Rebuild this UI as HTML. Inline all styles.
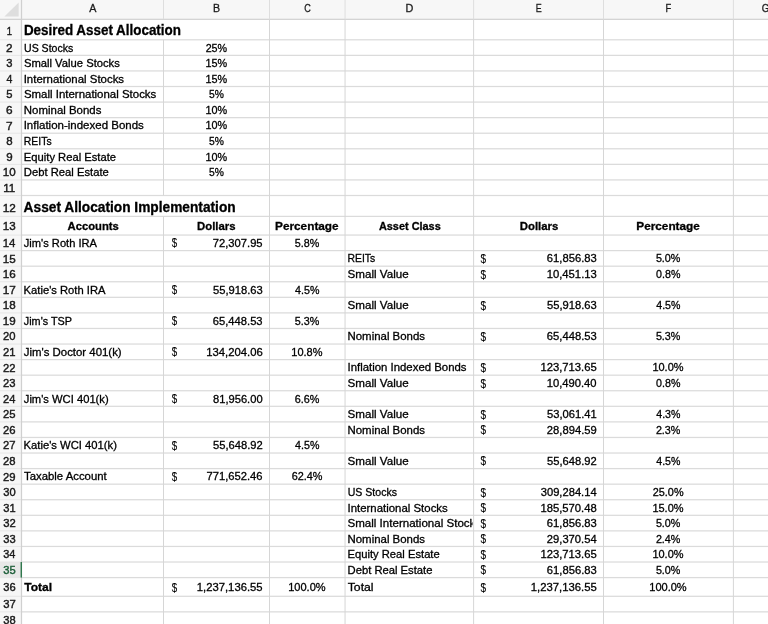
<!DOCTYPE html>
<html lang="en">
<head>
<meta charset="utf-8">
<title>Asset Allocation</title>
<style>
html,body{margin:0;padding:0;background:#fff;}
body{width:768px;height:624px;overflow:hidden;position:relative;font-family:"Liberation Sans",sans-serif;}
svg text{font-family:"Liberation Sans",sans-serif;white-space:pre;}
</style>
</head>
<body>
<svg width="768" height="624" viewBox="0 0 768 624" font-family="Liberation Sans, sans-serif" style="position:absolute;left:0;top:0;will-change:transform">
<defs><clipPath id="clipD"><rect x="345.05" y="0" width="127.45" height="624"/></clipPath></defs>
<rect x="0" y="0" width="768" height="624" fill="#fff"/>
<rect x="0" y="0" width="768" height="19.0" fill="#f7f7f7"/>
<rect x="0" y="0" width="21.5" height="624" fill="#f7f7f7"/>
<rect x="0" y="562.02" width="21.5" height="15.57" fill="#e8e8e8"/>
<rect x="0.00" y="18.73" width="768.00" height="1.15" fill="#cfcfcf"/>
<rect x="0.00" y="39.30" width="21.50" height="1.0" fill="#e6e6e6"/>
<rect x="21.50" y="39.17" width="746.50" height="1.25" fill="#dbdbdb"/>
<rect x="0.00" y="54.87" width="21.50" height="1.0" fill="#e6e6e6"/>
<rect x="21.50" y="54.74" width="746.50" height="1.25" fill="#dbdbdb"/>
<rect x="0.00" y="70.44" width="21.50" height="1.0" fill="#e6e6e6"/>
<rect x="21.50" y="70.31" width="746.50" height="1.25" fill="#dbdbdb"/>
<rect x="0.00" y="86.01" width="21.50" height="1.0" fill="#e6e6e6"/>
<rect x="21.50" y="85.88" width="746.50" height="1.25" fill="#dbdbdb"/>
<rect x="0.00" y="101.58" width="21.50" height="1.0" fill="#e6e6e6"/>
<rect x="21.50" y="101.45" width="746.50" height="1.25" fill="#dbdbdb"/>
<rect x="0.00" y="117.15" width="21.50" height="1.0" fill="#e6e6e6"/>
<rect x="21.50" y="117.02" width="746.50" height="1.25" fill="#dbdbdb"/>
<rect x="0.00" y="132.72" width="21.50" height="1.0" fill="#e6e6e6"/>
<rect x="21.50" y="132.59" width="746.50" height="1.25" fill="#dbdbdb"/>
<rect x="0.00" y="148.29" width="21.50" height="1.0" fill="#e6e6e6"/>
<rect x="21.50" y="148.16" width="746.50" height="1.25" fill="#dbdbdb"/>
<rect x="0.00" y="163.86" width="21.50" height="1.0" fill="#e6e6e6"/>
<rect x="21.50" y="163.73" width="746.50" height="1.25" fill="#dbdbdb"/>
<rect x="0.00" y="179.43" width="21.50" height="1.0" fill="#e6e6e6"/>
<rect x="21.50" y="179.30" width="746.50" height="1.25" fill="#dbdbdb"/>
<rect x="0.00" y="195.00" width="21.50" height="1.0" fill="#e6e6e6"/>
<rect x="21.50" y="194.87" width="746.50" height="1.25" fill="#dbdbdb"/>
<rect x="0.00" y="215.90" width="21.50" height="1.0" fill="#e6e6e6"/>
<rect x="21.50" y="215.77" width="746.50" height="1.25" fill="#dbdbdb"/>
<rect x="0.00" y="234.55" width="21.50" height="1.0" fill="#e6e6e6"/>
<rect x="21.50" y="234.42" width="746.50" height="1.25" fill="#dbdbdb"/>
<rect x="0.00" y="250.12" width="21.50" height="1.0" fill="#e6e6e6"/>
<rect x="21.50" y="249.99" width="746.50" height="1.25" fill="#dbdbdb"/>
<rect x="0.00" y="265.69" width="21.50" height="1.0" fill="#e6e6e6"/>
<rect x="21.50" y="265.56" width="746.50" height="1.25" fill="#dbdbdb"/>
<rect x="0.00" y="281.26" width="21.50" height="1.0" fill="#e6e6e6"/>
<rect x="21.50" y="281.13" width="746.50" height="1.25" fill="#dbdbdb"/>
<rect x="0.00" y="296.83" width="21.50" height="1.0" fill="#e6e6e6"/>
<rect x="21.50" y="296.70" width="746.50" height="1.25" fill="#dbdbdb"/>
<rect x="0.00" y="312.40" width="21.50" height="1.0" fill="#e6e6e6"/>
<rect x="21.50" y="312.27" width="746.50" height="1.25" fill="#dbdbdb"/>
<rect x="0.00" y="327.97" width="21.50" height="1.0" fill="#e6e6e6"/>
<rect x="21.50" y="327.84" width="746.50" height="1.25" fill="#dbdbdb"/>
<rect x="0.00" y="343.54" width="21.50" height="1.0" fill="#e6e6e6"/>
<rect x="21.50" y="343.41" width="746.50" height="1.25" fill="#dbdbdb"/>
<rect x="0.00" y="359.11" width="21.50" height="1.0" fill="#e6e6e6"/>
<rect x="21.50" y="358.98" width="746.50" height="1.25" fill="#dbdbdb"/>
<rect x="0.00" y="374.68" width="21.50" height="1.0" fill="#e6e6e6"/>
<rect x="21.50" y="374.55" width="746.50" height="1.25" fill="#dbdbdb"/>
<rect x="0.00" y="390.25" width="21.50" height="1.0" fill="#e6e6e6"/>
<rect x="21.50" y="390.12" width="746.50" height="1.25" fill="#dbdbdb"/>
<rect x="0.00" y="405.82" width="21.50" height="1.0" fill="#e6e6e6"/>
<rect x="21.50" y="405.69" width="746.50" height="1.25" fill="#dbdbdb"/>
<rect x="0.00" y="421.39" width="21.50" height="1.0" fill="#e6e6e6"/>
<rect x="21.50" y="421.26" width="746.50" height="1.25" fill="#dbdbdb"/>
<rect x="0.00" y="436.96" width="21.50" height="1.0" fill="#e6e6e6"/>
<rect x="21.50" y="436.83" width="746.50" height="1.25" fill="#dbdbdb"/>
<rect x="0.00" y="452.53" width="21.50" height="1.0" fill="#e6e6e6"/>
<rect x="21.50" y="452.40" width="746.50" height="1.25" fill="#dbdbdb"/>
<rect x="0.00" y="468.10" width="21.50" height="1.0" fill="#e6e6e6"/>
<rect x="21.50" y="467.97" width="746.50" height="1.25" fill="#dbdbdb"/>
<rect x="0.00" y="483.67" width="21.50" height="1.0" fill="#e6e6e6"/>
<rect x="21.50" y="483.54" width="746.50" height="1.25" fill="#dbdbdb"/>
<rect x="0.00" y="499.24" width="21.50" height="1.0" fill="#e6e6e6"/>
<rect x="21.50" y="499.11" width="746.50" height="1.25" fill="#dbdbdb"/>
<rect x="0.00" y="514.81" width="21.50" height="1.0" fill="#e6e6e6"/>
<rect x="21.50" y="514.68" width="746.50" height="1.25" fill="#dbdbdb"/>
<rect x="0.00" y="530.38" width="21.50" height="1.0" fill="#e6e6e6"/>
<rect x="21.50" y="530.25" width="746.50" height="1.25" fill="#dbdbdb"/>
<rect x="0.00" y="545.95" width="21.50" height="1.0" fill="#e6e6e6"/>
<rect x="21.50" y="545.82" width="746.50" height="1.25" fill="#dbdbdb"/>
<rect x="0.00" y="561.52" width="21.50" height="1.0" fill="#e6e6e6"/>
<rect x="21.50" y="561.39" width="746.50" height="1.25" fill="#dbdbdb"/>
<rect x="0.00" y="577.09" width="21.50" height="1.0" fill="#e6e6e6"/>
<rect x="21.50" y="576.97" width="746.50" height="1.25" fill="#dbdbdb"/>
<rect x="0.00" y="595.79" width="21.50" height="1.0" fill="#e6e6e6"/>
<rect x="21.50" y="595.67" width="746.50" height="1.25" fill="#dbdbdb"/>
<rect x="0.00" y="611.36" width="21.50" height="1.0" fill="#e6e6e6"/>
<rect x="21.50" y="611.24" width="746.50" height="1.25" fill="#dbdbdb"/>
<rect x="163.00" y="0.00" width="1.0" height="19.00" fill="#dedede"/>
<rect x="163.00" y="39.80" width="1.0" height="155.70" fill="#d6d6d6"/>
<rect x="163.00" y="216.40" width="1.0" height="407.60" fill="#d6d6d6"/>
<rect x="269.00" y="0.00" width="1.0" height="19.00" fill="#dedede"/>
<rect x="269.00" y="19.00" width="1.0" height="605.00" fill="#d6d6d6"/>
<rect x="344.55" y="0.00" width="1.0" height="19.00" fill="#dedede"/>
<rect x="344.55" y="19.00" width="1.0" height="605.00" fill="#d6d6d6"/>
<rect x="473.10" y="0.00" width="1.0" height="19.00" fill="#dedede"/>
<rect x="473.10" y="19.00" width="1.0" height="605.00" fill="#d6d6d6"/>
<rect x="603.00" y="0.00" width="1.0" height="19.00" fill="#dedede"/>
<rect x="603.00" y="19.00" width="1.0" height="605.00" fill="#d6d6d6"/>
<rect x="732.90" y="0.00" width="1.0" height="19.00" fill="#dedede"/>
<rect x="732.90" y="19.00" width="1.0" height="605.00" fill="#d6d6d6"/>
<rect x="20.90" y="0.00" width="1.2" height="624.00" fill="#d0d0d0"/>
<polygon points="4.4,16.5 18.7,16.5 18.7,2.4" fill="#dedede"/>
<rect x="20.60" y="562.02" width="1.3" height="15.57" fill="#1e6e3f"/>
<text x="23.88" y="34.80" font-size="13.9" fill="#000" stroke="#000" stroke-width="0.3" font-weight="bold" textLength="157.06" lengthAdjust="spacingAndGlyphs">Desired Asset Allocation</text>
<text x="23.62" y="211.50" font-size="13.9" fill="#000" stroke="#000" stroke-width="0.3" font-weight="bold" textLength="212.06" lengthAdjust="spacingAndGlyphs">Asset Allocation Implementation</text>
<text x="24.03" y="51.62" font-size="11.3" fill="#000" stroke="#000" stroke-width="0.3" textLength="49.29" lengthAdjust="spacingAndGlyphs">US Stocks</text>
<text x="205.63" y="51.62" font-size="11.3" fill="#000" stroke="#000" stroke-width="0.3" textLength="21.50" lengthAdjust="spacingAndGlyphs">25%</text>
<text x="23.91" y="67.19" font-size="11.3" fill="#000" stroke="#000" stroke-width="0.3" textLength="95.95" lengthAdjust="spacingAndGlyphs">Small Value Stocks</text>
<text x="205.46" y="67.19" font-size="11.3" fill="#000" stroke="#000" stroke-width="0.3" textLength="21.67" lengthAdjust="spacingAndGlyphs">15%</text>
<text x="23.68" y="82.76" font-size="11.3" fill="#000" stroke="#000" stroke-width="0.3" textLength="100.41" lengthAdjust="spacingAndGlyphs">International Stocks</text>
<text x="205.46" y="82.76" font-size="11.3" fill="#000" stroke="#000" stroke-width="0.3" textLength="21.67" lengthAdjust="spacingAndGlyphs">15%</text>
<text x="23.91" y="98.33" font-size="11.3" fill="#000" stroke="#000" stroke-width="0.3" textLength="132.42" lengthAdjust="spacingAndGlyphs">Small International Stocks</text>
<text x="208.96" y="98.33" font-size="11.3" fill="#000" stroke="#000" stroke-width="0.3" textLength="14.84" lengthAdjust="spacingAndGlyphs">5%</text>
<text x="23.86" y="113.90" font-size="11.3" fill="#000" stroke="#000" stroke-width="0.3" textLength="77.50" lengthAdjust="spacingAndGlyphs">Nominal Bonds</text>
<text x="205.46" y="113.90" font-size="11.3" fill="#000" stroke="#000" stroke-width="0.3" textLength="21.67" lengthAdjust="spacingAndGlyphs">10%</text>
<text x="23.68" y="129.47" font-size="11.3" fill="#000" stroke="#000" stroke-width="0.3" textLength="120.17" lengthAdjust="spacingAndGlyphs">Inflation-indexed Bonds</text>
<text x="205.46" y="129.47" font-size="11.3" fill="#000" stroke="#000" stroke-width="0.3" textLength="21.67" lengthAdjust="spacingAndGlyphs">10%</text>
<text x="23.86" y="145.04" font-size="11.3" fill="#000" stroke="#000" stroke-width="0.3" textLength="27.73" lengthAdjust="spacingAndGlyphs">REITs</text>
<text x="208.96" y="145.04" font-size="11.3" fill="#000" stroke="#000" stroke-width="0.3" textLength="14.84" lengthAdjust="spacingAndGlyphs">5%</text>
<text x="23.86" y="160.61" font-size="11.3" fill="#000" stroke="#000" stroke-width="0.3" textLength="92.20" lengthAdjust="spacingAndGlyphs">Equity Real Estate</text>
<text x="205.46" y="160.61" font-size="11.3" fill="#000" stroke="#000" stroke-width="0.3" textLength="21.67" lengthAdjust="spacingAndGlyphs">10%</text>
<text x="23.86" y="176.18" font-size="11.3" fill="#000" stroke="#000" stroke-width="0.3" textLength="84.97" lengthAdjust="spacingAndGlyphs">Debt Real Estate</text>
<text x="208.96" y="176.18" font-size="11.3" fill="#000" stroke="#000" stroke-width="0.3" textLength="14.84" lengthAdjust="spacingAndGlyphs">5%</text>
<text x="67.59" y="230.05" font-size="11.6" fill="#000" stroke="#000" stroke-width="0.3" font-weight="bold" textLength="51.18" lengthAdjust="spacingAndGlyphs">Accounts</text>
<text x="197.06" y="230.05" font-size="11.6" fill="#000" stroke="#000" stroke-width="0.3" font-weight="bold" textLength="38.47" lengthAdjust="spacingAndGlyphs">Dollars</text>
<text x="275.07" y="230.05" font-size="11.6" fill="#000" stroke="#000" stroke-width="0.3" font-weight="bold" textLength="63.56" lengthAdjust="spacingAndGlyphs">Percentage</text>
<text x="378.88" y="230.05" font-size="11.6" fill="#000" stroke="#000" stroke-width="0.3" font-weight="bold" textLength="61.89" lengthAdjust="spacingAndGlyphs">Asset Class</text>
<text x="519.83" y="230.05" font-size="11.6" fill="#000" stroke="#000" stroke-width="0.3" font-weight="bold" textLength="38.47" lengthAdjust="spacingAndGlyphs">Dollars</text>
<text x="636.28" y="230.05" font-size="11.6" fill="#000" stroke="#000" stroke-width="0.3" font-weight="bold" textLength="63.56" lengthAdjust="spacingAndGlyphs">Percentage</text>
<text x="23.79" y="246.87" font-size="11.3" fill="#000" stroke="#000" stroke-width="0.3" textLength="73.25" lengthAdjust="spacingAndGlyphs">Jim's Roth IRA</text>
<text x="171.79" y="247.42" font-size="12.4" fill="#000" stroke="#000" stroke-width="0.12" textLength="5.42" lengthAdjust="spacingAndGlyphs">$</text>
<text x="212.84" y="246.87" font-size="11.3" fill="#000" stroke="#000" stroke-width="0.3" textLength="49.75" lengthAdjust="spacingAndGlyphs">72,307.95</text>
<text x="294.87" y="246.87" font-size="11.3" fill="#000" stroke="#000" stroke-width="0.3" textLength="24.49" lengthAdjust="spacingAndGlyphs">5.8%</text>
<text x="23.59" y="293.58" font-size="11.3" fill="#000" stroke="#000" stroke-width="0.3" textLength="81.91" lengthAdjust="spacingAndGlyphs">Katie's Roth IRA</text>
<text x="171.79" y="294.13" font-size="12.4" fill="#000" stroke="#000" stroke-width="0.12" textLength="5.42" lengthAdjust="spacingAndGlyphs">$</text>
<text x="213.02" y="293.58" font-size="11.3" fill="#000" stroke="#000" stroke-width="0.3" textLength="49.75" lengthAdjust="spacingAndGlyphs">55,918.63</text>
<text x="295.05" y="293.58" font-size="11.3" fill="#000" stroke="#000" stroke-width="0.3" textLength="24.32" lengthAdjust="spacingAndGlyphs">4.5%</text>
<text x="23.79" y="324.72" font-size="11.3" fill="#000" stroke="#000" stroke-width="0.3" textLength="48.21" lengthAdjust="spacingAndGlyphs">Jim's TSP</text>
<text x="171.79" y="325.27" font-size="12.4" fill="#000" stroke="#000" stroke-width="0.12" textLength="5.42" lengthAdjust="spacingAndGlyphs">$</text>
<text x="212.84" y="324.72" font-size="11.3" fill="#000" stroke="#000" stroke-width="0.3" textLength="49.75" lengthAdjust="spacingAndGlyphs">65,448.53</text>
<text x="294.87" y="324.72" font-size="11.3" fill="#000" stroke="#000" stroke-width="0.3" textLength="24.49" lengthAdjust="spacingAndGlyphs">5.3%</text>
<text x="23.79" y="355.86" font-size="11.3" fill="#000" stroke="#000" stroke-width="0.3" textLength="97.89" lengthAdjust="spacingAndGlyphs">Jim's Doctor 401(k)</text>
<text x="171.79" y="356.41" font-size="12.4" fill="#000" stroke="#000" stroke-width="0.12" textLength="5.42" lengthAdjust="spacingAndGlyphs">$</text>
<text x="206.19" y="355.86" font-size="11.3" fill="#000" stroke="#000" stroke-width="0.3" textLength="56.58" lengthAdjust="spacingAndGlyphs">134,204.06</text>
<text x="291.37" y="355.86" font-size="11.3" fill="#000" stroke="#000" stroke-width="0.3" textLength="31.15" lengthAdjust="spacingAndGlyphs">10.8%</text>
<text x="23.79" y="402.57" font-size="11.3" fill="#000" stroke="#000" stroke-width="0.3" textLength="84.91" lengthAdjust="spacingAndGlyphs">Jim's WCI 401(k)</text>
<text x="171.79" y="403.12" font-size="12.4" fill="#000" stroke="#000" stroke-width="0.12" textLength="5.42" lengthAdjust="spacingAndGlyphs">$</text>
<text x="213.02" y="402.57" font-size="11.3" fill="#000" stroke="#000" stroke-width="0.3" textLength="49.57" lengthAdjust="spacingAndGlyphs">81,956.00</text>
<text x="294.70" y="402.57" font-size="11.3" fill="#000" stroke="#000" stroke-width="0.3" textLength="24.67" lengthAdjust="spacingAndGlyphs">6.6%</text>
<text x="23.59" y="449.28" font-size="11.3" fill="#000" stroke="#000" stroke-width="0.3" textLength="93.41" lengthAdjust="spacingAndGlyphs">Katie's WCI 401(k)</text>
<text x="171.79" y="449.83" font-size="12.4" fill="#000" stroke="#000" stroke-width="0.12" textLength="5.42" lengthAdjust="spacingAndGlyphs">$</text>
<text x="213.02" y="449.28" font-size="11.3" fill="#000" stroke="#000" stroke-width="0.3" textLength="49.75" lengthAdjust="spacingAndGlyphs">55,648.92</text>
<text x="295.05" y="449.28" font-size="11.3" fill="#000" stroke="#000" stroke-width="0.3" textLength="24.32" lengthAdjust="spacingAndGlyphs">4.5%</text>
<text x="24.09" y="480.42" font-size="11.3" fill="#000" stroke="#000" stroke-width="0.3" textLength="82.63" lengthAdjust="spacingAndGlyphs">Taxable Account</text>
<text x="171.79" y="480.97" font-size="12.4" fill="#000" stroke="#000" stroke-width="0.12" textLength="5.42" lengthAdjust="spacingAndGlyphs">$</text>
<text x="206.54" y="480.42" font-size="11.3" fill="#000" stroke="#000" stroke-width="0.3" textLength="56.05" lengthAdjust="spacingAndGlyphs">771,652.46</text>
<text x="291.72" y="480.42" font-size="11.3" fill="#000" stroke="#000" stroke-width="0.3" textLength="30.80" lengthAdjust="spacingAndGlyphs">62.4%</text>
<text x="24.26" y="591.19" font-size="11.6" fill="#000" stroke="#000" stroke-width="0.3" font-weight="bold" textLength="27.88" lengthAdjust="spacingAndGlyphs">Total</text>
<text x="171.79" y="591.74" font-size="12.4" fill="#000" stroke="#000" stroke-width="0.12" textLength="5.42" lengthAdjust="spacingAndGlyphs">$</text>
<text x="196.80" y="591.19" font-size="11.3" fill="#000" stroke="#000" stroke-width="0.3" textLength="65.79" lengthAdjust="spacingAndGlyphs">1,237,136.55</text>
<text x="288.21" y="591.19" font-size="11.3" fill="#000" stroke="#000" stroke-width="0.3" textLength="37.46" lengthAdjust="spacingAndGlyphs">100.0%</text>
<text x="347.52" y="262.44" font-size="11.3" fill="#000" stroke="#000" stroke-width="0.3" textLength="27.73" lengthAdjust="spacingAndGlyphs">REITs</text>
<text x="480.56" y="262.99" font-size="12.4" fill="#000" stroke="#000" stroke-width="0.12" textLength="5.59" lengthAdjust="spacingAndGlyphs">$</text>
<text x="546.87" y="262.44" font-size="11.3" fill="#000" stroke="#000" stroke-width="0.3" textLength="49.92" lengthAdjust="spacingAndGlyphs">61,856.83</text>
<text x="655.90" y="262.44" font-size="11.3" fill="#000" stroke="#000" stroke-width="0.3" textLength="24.49" lengthAdjust="spacingAndGlyphs">5.0%</text>
<text x="347.57" y="278.01" font-size="11.3" fill="#000" stroke="#000" stroke-width="0.3" textLength="61.12" lengthAdjust="spacingAndGlyphs">Small Value</text>
<text x="480.56" y="278.56" font-size="12.4" fill="#000" stroke="#000" stroke-width="0.12" textLength="5.59" lengthAdjust="spacingAndGlyphs">$</text>
<text x="546.70" y="278.01" font-size="11.3" fill="#000" stroke="#000" stroke-width="0.3" textLength="50.10" lengthAdjust="spacingAndGlyphs">10,451.13</text>
<text x="656.08" y="278.01" font-size="11.3" fill="#000" stroke="#000" stroke-width="0.3" textLength="24.32" lengthAdjust="spacingAndGlyphs">0.8%</text>
<text x="347.57" y="309.15" font-size="11.3" fill="#000" stroke="#000" stroke-width="0.3" textLength="61.12" lengthAdjust="spacingAndGlyphs">Small Value</text>
<text x="480.56" y="309.70" font-size="12.4" fill="#000" stroke="#000" stroke-width="0.12" textLength="5.59" lengthAdjust="spacingAndGlyphs">$</text>
<text x="547.05" y="309.15" font-size="11.3" fill="#000" stroke="#000" stroke-width="0.3" textLength="49.75" lengthAdjust="spacingAndGlyphs">55,918.63</text>
<text x="656.25" y="309.15" font-size="11.3" fill="#000" stroke="#000" stroke-width="0.3" textLength="24.14" lengthAdjust="spacingAndGlyphs">4.5%</text>
<text x="347.52" y="340.29" font-size="11.3" fill="#000" stroke="#000" stroke-width="0.3" textLength="77.50" lengthAdjust="spacingAndGlyphs">Nominal Bonds</text>
<text x="480.56" y="340.84" font-size="12.4" fill="#000" stroke="#000" stroke-width="0.12" textLength="5.59" lengthAdjust="spacingAndGlyphs">$</text>
<text x="546.87" y="340.29" font-size="11.3" fill="#000" stroke="#000" stroke-width="0.3" textLength="49.92" lengthAdjust="spacingAndGlyphs">65,448.53</text>
<text x="655.90" y="340.29" font-size="11.3" fill="#000" stroke="#000" stroke-width="0.3" textLength="24.49" lengthAdjust="spacingAndGlyphs">5.3%</text>
<text x="347.52" y="371.43" font-size="11.3" fill="#000" stroke="#000" stroke-width="0.3" textLength="118.97" lengthAdjust="spacingAndGlyphs">Inflation Indexed Bonds</text>
<text x="480.56" y="371.98" font-size="12.4" fill="#000" stroke="#000" stroke-width="0.12" textLength="5.59" lengthAdjust="spacingAndGlyphs">$</text>
<text x="540.39" y="371.43" font-size="11.3" fill="#000" stroke="#000" stroke-width="0.3" textLength="56.40" lengthAdjust="spacingAndGlyphs">123,713.65</text>
<text x="652.40" y="371.43" font-size="11.3" fill="#000" stroke="#000" stroke-width="0.3" textLength="31.15" lengthAdjust="spacingAndGlyphs">10.0%</text>
<text x="347.57" y="387.00" font-size="11.3" fill="#000" stroke="#000" stroke-width="0.3" textLength="61.12" lengthAdjust="spacingAndGlyphs">Small Value</text>
<text x="480.56" y="387.55" font-size="12.4" fill="#000" stroke="#000" stroke-width="0.12" textLength="5.59" lengthAdjust="spacingAndGlyphs">$</text>
<text x="546.70" y="387.00" font-size="11.3" fill="#000" stroke="#000" stroke-width="0.3" textLength="49.92" lengthAdjust="spacingAndGlyphs">10,490.40</text>
<text x="656.08" y="387.00" font-size="11.3" fill="#000" stroke="#000" stroke-width="0.3" textLength="24.32" lengthAdjust="spacingAndGlyphs">0.8%</text>
<text x="347.57" y="418.14" font-size="11.3" fill="#000" stroke="#000" stroke-width="0.3" textLength="61.12" lengthAdjust="spacingAndGlyphs">Small Value</text>
<text x="480.56" y="418.69" font-size="12.4" fill="#000" stroke="#000" stroke-width="0.12" textLength="5.59" lengthAdjust="spacingAndGlyphs">$</text>
<text x="547.05" y="418.14" font-size="11.3" fill="#000" stroke="#000" stroke-width="0.3" textLength="49.75" lengthAdjust="spacingAndGlyphs">53,061.41</text>
<text x="656.25" y="418.14" font-size="11.3" fill="#000" stroke="#000" stroke-width="0.3" textLength="24.14" lengthAdjust="spacingAndGlyphs">4.3%</text>
<text x="347.52" y="433.71" font-size="11.3" fill="#000" stroke="#000" stroke-width="0.3" textLength="77.50" lengthAdjust="spacingAndGlyphs">Nominal Bonds</text>
<text x="480.56" y="434.26" font-size="12.4" fill="#000" stroke="#000" stroke-width="0.12" textLength="5.59" lengthAdjust="spacingAndGlyphs">$</text>
<text x="546.87" y="433.71" font-size="11.3" fill="#000" stroke="#000" stroke-width="0.3" textLength="49.92" lengthAdjust="spacingAndGlyphs">28,894.59</text>
<text x="655.90" y="433.71" font-size="11.3" fill="#000" stroke="#000" stroke-width="0.3" textLength="24.49" lengthAdjust="spacingAndGlyphs">2.3%</text>
<text x="347.57" y="464.85" font-size="11.3" fill="#000" stroke="#000" stroke-width="0.3" textLength="61.12" lengthAdjust="spacingAndGlyphs">Small Value</text>
<text x="480.56" y="465.40" font-size="12.4" fill="#000" stroke="#000" stroke-width="0.12" textLength="5.59" lengthAdjust="spacingAndGlyphs">$</text>
<text x="547.05" y="464.85" font-size="11.3" fill="#000" stroke="#000" stroke-width="0.3" textLength="49.75" lengthAdjust="spacingAndGlyphs">55,648.92</text>
<text x="656.25" y="464.85" font-size="11.3" fill="#000" stroke="#000" stroke-width="0.3" textLength="24.14" lengthAdjust="spacingAndGlyphs">4.5%</text>
<text x="347.69" y="495.99" font-size="11.3" fill="#000" stroke="#000" stroke-width="0.3" textLength="49.29" lengthAdjust="spacingAndGlyphs">US Stocks</text>
<text x="480.56" y="496.54" font-size="12.4" fill="#000" stroke="#000" stroke-width="0.12" textLength="5.59" lengthAdjust="spacingAndGlyphs">$</text>
<text x="540.74" y="495.99" font-size="11.3" fill="#000" stroke="#000" stroke-width="0.3" textLength="55.88" lengthAdjust="spacingAndGlyphs">309,284.14</text>
<text x="652.75" y="495.99" font-size="11.3" fill="#000" stroke="#000" stroke-width="0.3" textLength="30.80" lengthAdjust="spacingAndGlyphs">25.0%</text>
<text x="347.52" y="511.56" font-size="11.3" fill="#000" stroke="#000" stroke-width="0.3" textLength="100.23" lengthAdjust="spacingAndGlyphs">International Stocks</text>
<text x="480.56" y="512.11" font-size="12.4" fill="#000" stroke="#000" stroke-width="0.12" textLength="5.59" lengthAdjust="spacingAndGlyphs">$</text>
<text x="540.39" y="511.56" font-size="11.3" fill="#000" stroke="#000" stroke-width="0.3" textLength="56.40" lengthAdjust="spacingAndGlyphs">185,570.48</text>
<text x="652.40" y="511.56" font-size="11.3" fill="#000" stroke="#000" stroke-width="0.3" textLength="31.15" lengthAdjust="spacingAndGlyphs">15.0%</text>
<text x="347.50" y="527.13" font-size="11.3" fill="#000" stroke="#000" stroke-width="0.3" textLength="127.90" lengthAdjust="spacingAndGlyphs" clip-path="url(#clipD)">Small International Stock</text>
<text x="480.56" y="527.68" font-size="12.4" fill="#000" stroke="#000" stroke-width="0.12" textLength="5.59" lengthAdjust="spacingAndGlyphs">$</text>
<text x="546.87" y="527.13" font-size="11.3" fill="#000" stroke="#000" stroke-width="0.3" textLength="49.92" lengthAdjust="spacingAndGlyphs">61,856.83</text>
<text x="655.90" y="527.13" font-size="11.3" fill="#000" stroke="#000" stroke-width="0.3" textLength="24.49" lengthAdjust="spacingAndGlyphs">5.0%</text>
<text x="347.52" y="542.70" font-size="11.3" fill="#000" stroke="#000" stroke-width="0.3" textLength="77.50" lengthAdjust="spacingAndGlyphs">Nominal Bonds</text>
<text x="480.56" y="543.25" font-size="12.4" fill="#000" stroke="#000" stroke-width="0.12" textLength="5.59" lengthAdjust="spacingAndGlyphs">$</text>
<text x="546.87" y="542.70" font-size="11.3" fill="#000" stroke="#000" stroke-width="0.3" textLength="49.75" lengthAdjust="spacingAndGlyphs">29,370.54</text>
<text x="655.90" y="542.70" font-size="11.3" fill="#000" stroke="#000" stroke-width="0.3" textLength="24.49" lengthAdjust="spacingAndGlyphs">2.4%</text>
<text x="347.52" y="558.27" font-size="11.3" fill="#000" stroke="#000" stroke-width="0.3" textLength="92.20" lengthAdjust="spacingAndGlyphs">Equity Real Estate</text>
<text x="480.56" y="558.82" font-size="12.4" fill="#000" stroke="#000" stroke-width="0.12" textLength="5.59" lengthAdjust="spacingAndGlyphs">$</text>
<text x="540.39" y="558.27" font-size="11.3" fill="#000" stroke="#000" stroke-width="0.3" textLength="56.40" lengthAdjust="spacingAndGlyphs">123,713.65</text>
<text x="652.40" y="558.27" font-size="11.3" fill="#000" stroke="#000" stroke-width="0.3" textLength="31.15" lengthAdjust="spacingAndGlyphs">10.0%</text>
<text x="347.52" y="573.84" font-size="11.3" fill="#000" stroke="#000" stroke-width="0.3" textLength="84.97" lengthAdjust="spacingAndGlyphs">Debt Real Estate</text>
<text x="480.56" y="574.39" font-size="12.4" fill="#000" stroke="#000" stroke-width="0.12" textLength="5.59" lengthAdjust="spacingAndGlyphs">$</text>
<text x="546.87" y="573.84" font-size="11.3" fill="#000" stroke="#000" stroke-width="0.3" textLength="49.92" lengthAdjust="spacingAndGlyphs">61,856.83</text>
<text x="655.90" y="573.84" font-size="11.3" fill="#000" stroke="#000" stroke-width="0.3" textLength="24.49" lengthAdjust="spacingAndGlyphs">5.0%</text>
<text x="347.75" y="591.19" font-size="11.3" fill="#000" stroke="#000" stroke-width="0.3" textLength="25.82" lengthAdjust="spacingAndGlyphs">Total</text>
<text x="480.56" y="591.74" font-size="12.4" fill="#000" stroke="#000" stroke-width="0.12" textLength="5.59" lengthAdjust="spacingAndGlyphs">$</text>
<text x="530.83" y="591.19" font-size="11.3" fill="#000" stroke="#000" stroke-width="0.3" textLength="65.96" lengthAdjust="spacingAndGlyphs">1,237,136.55</text>
<text x="649.24" y="591.19" font-size="11.3" fill="#000" stroke="#000" stroke-width="0.3" textLength="37.46" lengthAdjust="spacingAndGlyphs">100.0%</text>
<text x="89.26" y="12.20" font-size="11.7" fill="#1a1a1a" stroke="#1a1a1a" stroke-width="0.3" textLength="7.16" lengthAdjust="spacingAndGlyphs">A</text>
<text x="213.10" y="12.20" font-size="11.7" fill="#1a1a1a" stroke="#1a1a1a" stroke-width="0.3" textLength="7.09" lengthAdjust="spacingAndGlyphs">B</text>
<text x="304.32" y="12.20" font-size="11.7" fill="#1a1a1a" stroke="#1a1a1a" stroke-width="0.3" textLength="6.57" lengthAdjust="spacingAndGlyphs">C</text>
<text x="405.49" y="12.20" font-size="11.7" fill="#1a1a1a" stroke="#1a1a1a" stroke-width="0.3" textLength="7.85" lengthAdjust="spacingAndGlyphs">D</text>
<text x="535.70" y="12.20" font-size="11.7" fill="#1a1a1a" stroke="#1a1a1a" stroke-width="0.3" textLength="5.97" lengthAdjust="spacingAndGlyphs">E</text>
<text x="665.61" y="12.20" font-size="11.7" fill="#1a1a1a" stroke="#1a1a1a" stroke-width="0.3" textLength="5.74" lengthAdjust="spacingAndGlyphs">F</text>
<text x="761.80" y="12.20" font-size="11.7" fill="#1a1a1a" stroke="#1a1a1a" stroke-width="0.3" textLength="7.60" lengthAdjust="spacingAndGlyphs">G</text>
<text x="6.66" y="35.00" font-size="11.7" fill="#1a1a1a" stroke="#1a1a1a" stroke-width="0.42" textLength="5.28" lengthAdjust="spacingAndGlyphs">1</text>
<text x="6.09" y="51.72" font-size="11.7" fill="#1a1a1a" stroke="#1a1a1a" stroke-width="0.42" textLength="6.58" lengthAdjust="spacingAndGlyphs">2</text>
<text x="6.27" y="67.29" font-size="11.7" fill="#1a1a1a" stroke="#1a1a1a" stroke-width="0.42" textLength="6.23" lengthAdjust="spacingAndGlyphs">3</text>
<text x="6.44" y="82.86" font-size="11.7" fill="#1a1a1a" stroke="#1a1a1a" stroke-width="0.42" textLength="5.88" lengthAdjust="spacingAndGlyphs">4</text>
<text x="6.27" y="98.43" font-size="11.7" fill="#1a1a1a" stroke="#1a1a1a" stroke-width="0.42" textLength="6.23" lengthAdjust="spacingAndGlyphs">5</text>
<text x="6.09" y="114.00" font-size="11.7" fill="#1a1a1a" stroke="#1a1a1a" stroke-width="0.42" textLength="6.58" lengthAdjust="spacingAndGlyphs">6</text>
<text x="6.09" y="129.57" font-size="11.7" fill="#1a1a1a" stroke="#1a1a1a" stroke-width="0.42" textLength="6.58" lengthAdjust="spacingAndGlyphs">7</text>
<text x="6.27" y="145.14" font-size="11.7" fill="#1a1a1a" stroke="#1a1a1a" stroke-width="0.42" textLength="6.41" lengthAdjust="spacingAndGlyphs">8</text>
<text x="6.27" y="160.71" font-size="11.7" fill="#1a1a1a" stroke="#1a1a1a" stroke-width="0.42" textLength="6.41" lengthAdjust="spacingAndGlyphs">9</text>
<text x="2.75" y="176.28" font-size="11.7" fill="#1a1a1a" stroke="#1a1a1a" stroke-width="0.42" textLength="12.91" lengthAdjust="spacingAndGlyphs">10</text>
<text x="3.29" y="191.85" font-size="11.7" fill="#1a1a1a" stroke="#1a1a1a" stroke-width="0.42" textLength="12.02" lengthAdjust="spacingAndGlyphs">11</text>
<text x="2.75" y="211.50" font-size="11.7" fill="#1a1a1a" stroke="#1a1a1a" stroke-width="0.42" textLength="13.09" lengthAdjust="spacingAndGlyphs">12</text>
<text x="2.75" y="229.80" font-size="11.7" fill="#1a1a1a" stroke="#1a1a1a" stroke-width="0.42" textLength="12.91" lengthAdjust="spacingAndGlyphs">13</text>
<text x="2.75" y="246.97" font-size="11.7" fill="#1a1a1a" stroke="#1a1a1a" stroke-width="0.42" textLength="12.74" lengthAdjust="spacingAndGlyphs">14</text>
<text x="2.75" y="262.54" font-size="11.7" fill="#1a1a1a" stroke="#1a1a1a" stroke-width="0.42" textLength="12.91" lengthAdjust="spacingAndGlyphs">15</text>
<text x="2.75" y="278.11" font-size="11.7" fill="#1a1a1a" stroke="#1a1a1a" stroke-width="0.42" textLength="12.91" lengthAdjust="spacingAndGlyphs">16</text>
<text x="2.75" y="293.68" font-size="11.7" fill="#1a1a1a" stroke="#1a1a1a" stroke-width="0.42" textLength="13.09" lengthAdjust="spacingAndGlyphs">17</text>
<text x="2.75" y="309.25" font-size="11.7" fill="#1a1a1a" stroke="#1a1a1a" stroke-width="0.42" textLength="12.91" lengthAdjust="spacingAndGlyphs">18</text>
<text x="2.75" y="324.82" font-size="11.7" fill="#1a1a1a" stroke="#1a1a1a" stroke-width="0.42" textLength="12.91" lengthAdjust="spacingAndGlyphs">19</text>
<text x="3.10" y="340.39" font-size="11.7" fill="#1a1a1a" stroke="#1a1a1a" stroke-width="0.42" textLength="12.56" lengthAdjust="spacingAndGlyphs">20</text>
<text x="3.10" y="355.96" font-size="11.7" fill="#1a1a1a" stroke="#1a1a1a" stroke-width="0.42" textLength="12.56" lengthAdjust="spacingAndGlyphs">21</text>
<text x="3.10" y="371.53" font-size="11.7" fill="#1a1a1a" stroke="#1a1a1a" stroke-width="0.42" textLength="12.56" lengthAdjust="spacingAndGlyphs">22</text>
<text x="3.10" y="387.10" font-size="11.7" fill="#1a1a1a" stroke="#1a1a1a" stroke-width="0.42" textLength="12.56" lengthAdjust="spacingAndGlyphs">23</text>
<text x="3.10" y="402.67" font-size="11.7" fill="#1a1a1a" stroke="#1a1a1a" stroke-width="0.42" textLength="12.39" lengthAdjust="spacingAndGlyphs">24</text>
<text x="3.10" y="418.24" font-size="11.7" fill="#1a1a1a" stroke="#1a1a1a" stroke-width="0.42" textLength="12.56" lengthAdjust="spacingAndGlyphs">25</text>
<text x="3.10" y="433.81" font-size="11.7" fill="#1a1a1a" stroke="#1a1a1a" stroke-width="0.42" textLength="12.56" lengthAdjust="spacingAndGlyphs">26</text>
<text x="3.10" y="449.38" font-size="11.7" fill="#1a1a1a" stroke="#1a1a1a" stroke-width="0.42" textLength="12.56" lengthAdjust="spacingAndGlyphs">27</text>
<text x="3.10" y="464.95" font-size="11.7" fill="#1a1a1a" stroke="#1a1a1a" stroke-width="0.42" textLength="12.56" lengthAdjust="spacingAndGlyphs">28</text>
<text x="3.10" y="480.52" font-size="11.7" fill="#1a1a1a" stroke="#1a1a1a" stroke-width="0.42" textLength="12.56" lengthAdjust="spacingAndGlyphs">29</text>
<text x="3.28" y="496.09" font-size="11.7" fill="#1a1a1a" stroke="#1a1a1a" stroke-width="0.42" textLength="12.39" lengthAdjust="spacingAndGlyphs">30</text>
<text x="3.28" y="511.66" font-size="11.7" fill="#1a1a1a" stroke="#1a1a1a" stroke-width="0.42" textLength="12.39" lengthAdjust="spacingAndGlyphs">31</text>
<text x="3.28" y="527.23" font-size="11.7" fill="#1a1a1a" stroke="#1a1a1a" stroke-width="0.42" textLength="12.56" lengthAdjust="spacingAndGlyphs">32</text>
<text x="3.28" y="542.80" font-size="11.7" fill="#1a1a1a" stroke="#1a1a1a" stroke-width="0.42" textLength="12.39" lengthAdjust="spacingAndGlyphs">33</text>
<text x="3.28" y="558.37" font-size="11.7" fill="#1a1a1a" stroke="#1a1a1a" stroke-width="0.42" textLength="12.21" lengthAdjust="spacingAndGlyphs">34</text>
<text x="3.28" y="573.94" font-size="11.7" fill="#1c5e38" stroke="#1c5e38" stroke-width="0.42" textLength="12.39" lengthAdjust="spacingAndGlyphs">35</text>
<text x="3.28" y="591.10" font-size="11.7" fill="#1a1a1a" stroke="#1a1a1a" stroke-width="0.42" textLength="12.39" lengthAdjust="spacingAndGlyphs">36</text>
<text x="3.28" y="608.21" font-size="11.7" fill="#1a1a1a" stroke="#1a1a1a" stroke-width="0.42" textLength="12.56" lengthAdjust="spacingAndGlyphs">37</text>
<text x="3.28" y="623.78" font-size="11.7" fill="#1a1a1a" stroke="#1a1a1a" stroke-width="0.42" textLength="12.39" lengthAdjust="spacingAndGlyphs">38</text>
</svg>
</body>
</html>
